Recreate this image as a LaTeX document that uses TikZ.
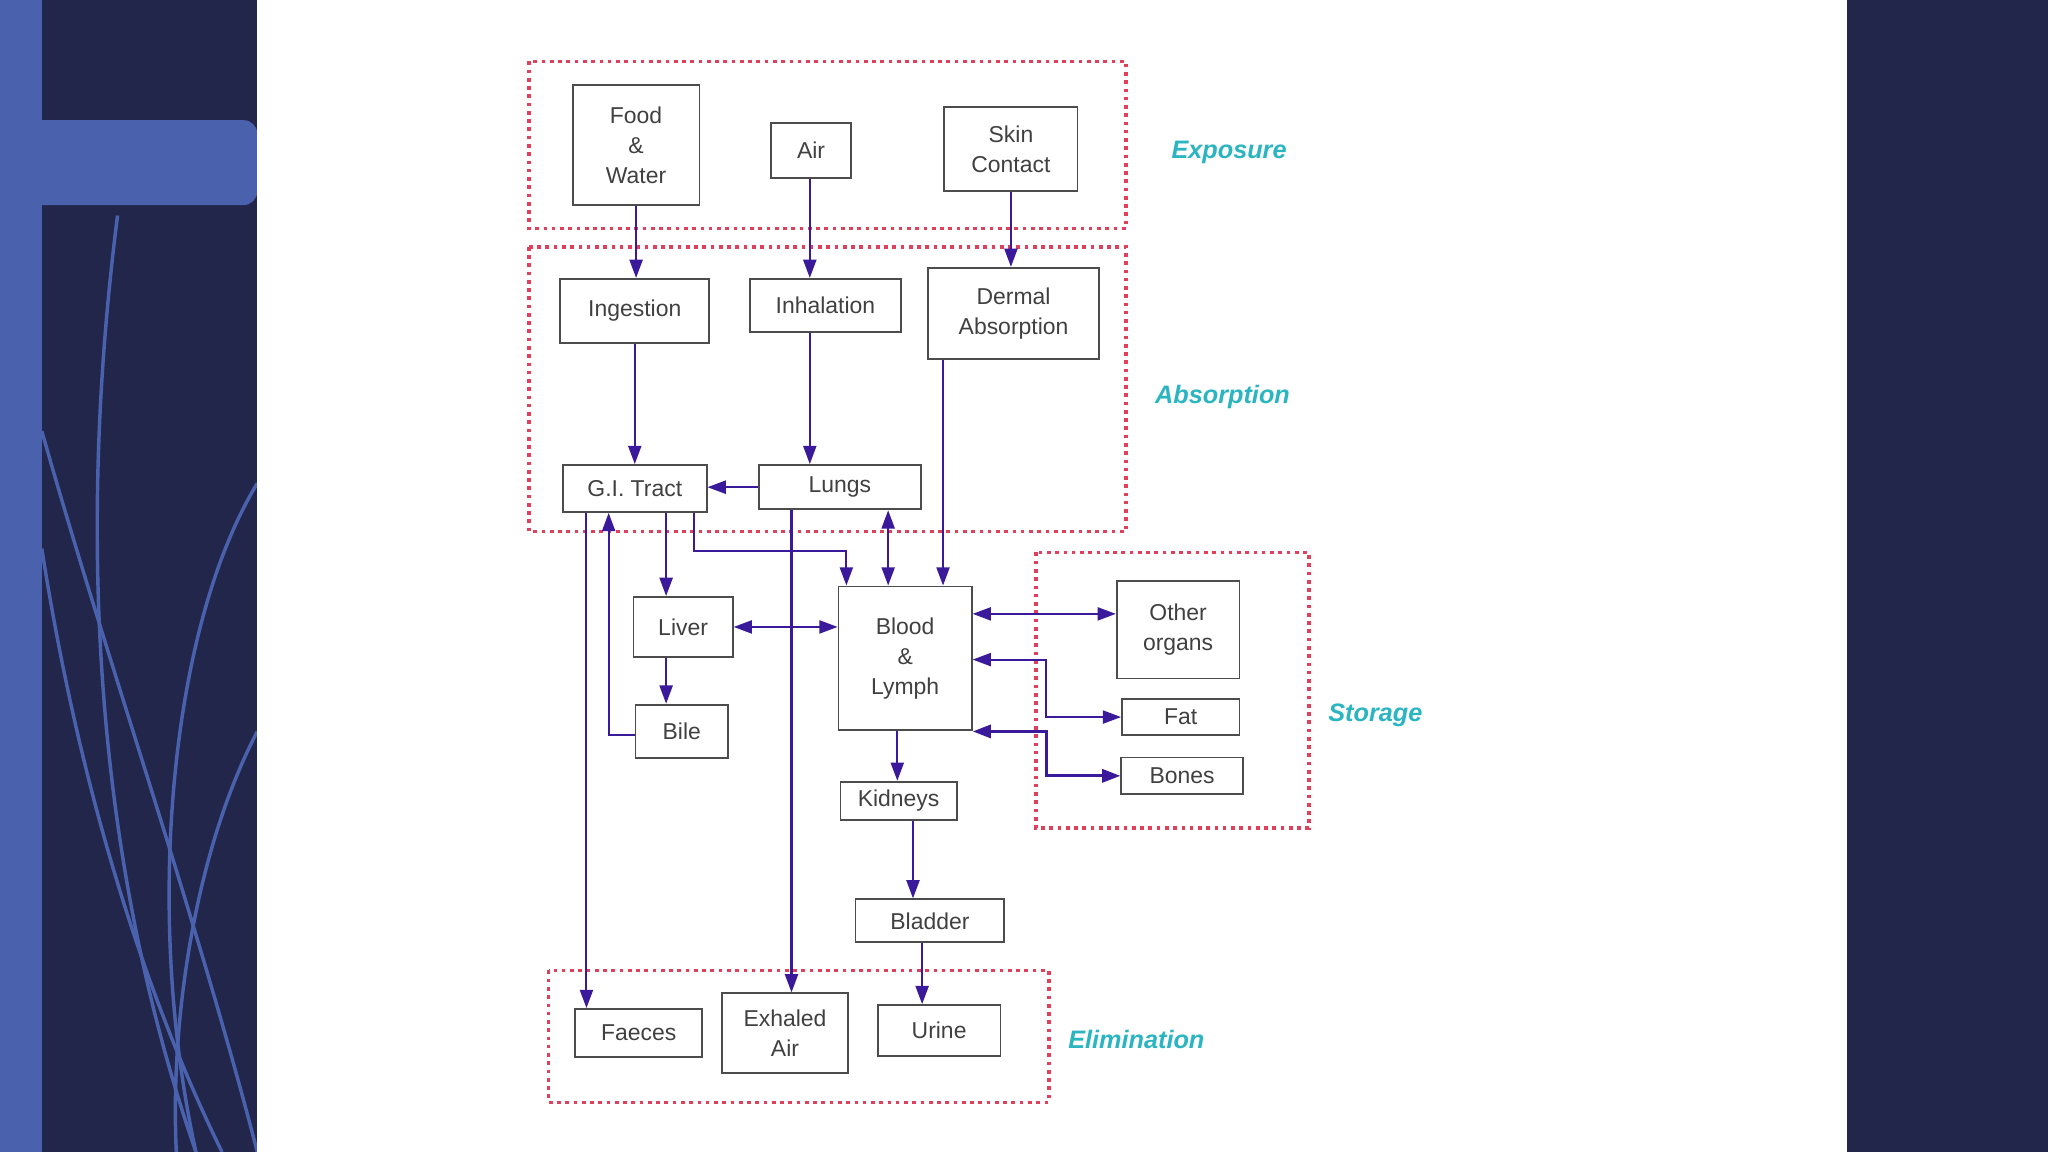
\documentclass[tikz,border=0pt]{standalone}
\usepackage{fontspec}
\setmainfont{Liberation Sans}
\usetikzlibrary{arrows.meta}
\definecolor{navy}{HTML}{22264A}
\definecolor{stripe}{HTML}{4A62AE}
\definecolor{flow}{HTML}{3A1A9A}
\definecolor{zone}{HTML}{E0405A}
\definecolor{teal}{HTML}{2AB5C0}
\tikzset{
  box/.style = {draw=black!70, line width=0.8pt, align=center, inner sep=0pt,
                font=\fontsize{10}{13}\selectfont, text=black!75},
  region/.style = {draw=zone, line width=1.6pt, dotted},
  tag/.style = {font=\bfseries\itshape\fontsize{11}{13}\selectfont, text=teal},
  arr/.style = {draw=flow, line width=0.9pt, -{Triangle[length=0.28cm,width=0.2cm]}},
  darr/.style = {arr, {Triangle[length=0.28cm,width=0.2cm]}-{Triangle[length=0.28cm,width=0.2cm]}}
}
\begin{document}
\begin{tikzpicture}[x=0.02cm,y=-0.02cm]
  % slide background
  \fill[navy] (0,0) rectangle (1568,882);
  \fill[stripe] (0,0) rectangle (32,882);
  \fill[stripe, rounded corners=6] (20,92) rectangle (197,157);
  \begin{scope}
    \clip (32,160) rectangle (197,882);
    \draw[stripe, line width=1.5pt] (90,165) .. controls (60,400) and (70,650) .. (150,882);
    \draw[stripe, line width=1.5pt] (32,330) .. controls (80,500) and (150,700) .. (197,882);
    \draw[stripe, line width=1.5pt] (32,420) .. controls (60,600) and (110,760) .. (170,882);
    \draw[stripe, line width=1.5pt] (197,370) .. controls (130,480) and (110,700) .. (150,882);
    \draw[stripe, line width=1.5pt] (197,560) .. controls (150,650) and (130,780) .. (135,882);
  \end{scope}
  \fill[white] (197,0) rectangle (1414,882);

  % regions
  \draw[region] (405,47) rectangle (862,175);
  \draw[region] (405,189) rectangle (862,407);
  \draw[region] (793,423) rectangle (1002,634);
  \draw[region] (420,743) rectangle (803,844);
  \node[tag] (exposure) at (941,117) {Exposure};
  \node[tag] (absorption) at (936,304) {Absorption};
  \node[tag] (storage) at (1053,548) {Storage};
  \node[tag] (elimination) at (870,796) {Elimination};

  % boxes
  \node[box, minimum width=1.94cm, minimum height=1.84cm] (food) at (487,111) {Food\\\&\\Water};
  \node[box, minimum width=1.22cm, minimum height=0.84cm] (air) at (621,115) {Air};
  \node[box, minimum width=2.04cm, minimum height=1.28cm] (skin) at (774,114) {Skin\\Contact};
  \node[box, minimum width=2.28cm, minimum height=0.98cm] (ingest) at (486,238) {Ingestion};
  \node[box, minimum width=2.32cm, minimum height=0.82cm] (inhal) at (632,234) {Inhalation};
  \node[box, minimum width=2.62cm, minimum height=1.40cm] (dermal) at (776,240) {Dermal\\Absorption};
  \node[box, minimum width=2.20cm, minimum height=0.72cm] (gi) at (486,374) {G.I. Tract};
  \node[box, minimum width=2.48cm, minimum height=0.68cm] (lungs) at (643,373) {Lungs};
  \node[box, minimum width=1.52cm, minimum height=0.92cm] (liver) at (523,480) {Liver};
  \node[box, minimum width=2.04cm, minimum height=2.20cm] (blood) at (693,504) {Blood\\\&\\Lymph};
  \node[box, minimum width=1.88cm, minimum height=1.50cm] (other) at (902,482) {Other\\organs};
  \node[box, minimum width=1.80cm, minimum height=0.56cm] (fat) at (904,549) {Fat};
  \node[box, minimum width=1.86cm, minimum height=0.56cm] (bones) at (905,594) {Bones};
  \node[box, minimum width=1.42cm, minimum height=0.82cm] (bile) at (522,560) {Bile};
  \node[box, minimum width=1.78cm, minimum height=0.58cm] (kidneys) at (688,613) {Kidneys};
  \node[box, minimum width=2.28cm, minimum height=0.66cm] (bladder) at (712,705) {Bladder};
  \node[box, minimum width=1.94cm, minimum height=0.74cm] (faeces) at (489,791) {Faeces};
  \node[box, minimum width=1.92cm, minimum height=1.22cm] (exhaled) at (601,791) {Exhaled\\Air};
  \node[box, minimum width=1.88cm, minimum height=0.78cm] (urine) at (719,789) {Urine};

  % connectors
  \draw[arr] (food.south) -- (food.south |- ingest.north);
  \draw[arr] (air.south -| 620,0) -- (inhal.north -| 620,0);
  \draw[arr] (skin.south) -- (skin.south |- dermal.north);
  \draw[arr] (ingest.south) -- (ingest.south |- gi.north);
  \draw[arr] (inhal.south -| 620,0) -- (lungs.north -| 620,0);
  \draw[arr] (dermal.south -| 722,0) -- (blood.north -| 722,0);
  \draw[arr] (lungs.west) -- (gi.east |- lungs.west);
  \draw[darr] (lungs.south -| 680,0) -- (blood.north -| 680,0);
  \draw[arr] (gi.south -| 531,0) |- (648,422) -- (blood.north -| 648,0);
  \draw[arr] (gi.south -| 510,0) -- (liver.north -| 510,0);
  \draw[darr] (liver.east) -- (blood.west |- liver.east);
  \draw[arr] (liver.south -| 510,0) -- (bile.north -| 510,0);
  \draw[arr] (bile.west |- 0,563) -| (gi.south -| 466,0);
  \draw[arr] (gi.south -| 449,0) -- (faeces.north -| 449,0);
  \draw[arr] (lungs.south -| 606,0) -- (exhaled.north -| 606,0);
  \draw[darr] (blood.east |- 0,470) -- (other.west |- 0,470);
  \draw[darr] (blood.east |- 0,505) -- (801,505) |- (fat.west);
  \draw[darr, line width=1.4pt] (blood.east |- 0,560) -- (801,560) |- (bones.west);
  \draw[arr] (blood.south -| 687,0) -- (kidneys.north -| 687,0);
  \draw[arr] (kidneys.south -| 699,0) -- (bladder.north -| 699,0);
  \draw[arr] (bladder.south -| 706,0) -- (urine.north -| 706,0);
\end{tikzpicture}
\end{document}
